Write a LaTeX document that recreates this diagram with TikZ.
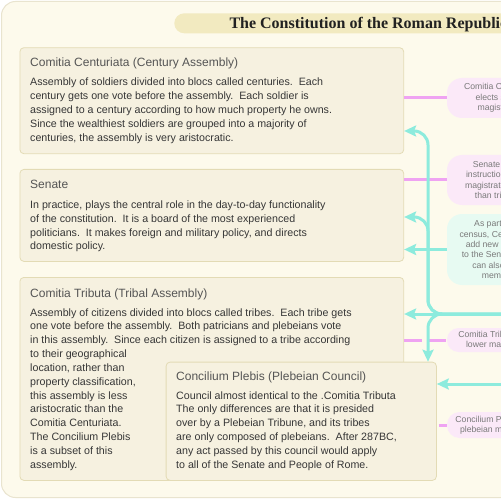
\documentclass[tikz,border=0pt]{standalone}
\usepackage{fontspec}
\setmainfont{Liberation Serif}
\newfontfamily\lsans{Liberation Sans}
\usetikzlibrary{arrows.meta}
\pgfdeclarelayer{back}
\pgfdeclarelayer{wires}
\pgfsetlayers{back,wires,main}
\definecolor{panelfill}{HTML}{FDFAEC}
\definecolor{panelline}{HTML}{E9E4CF}
\definecolor{boxfill}{HTML}{F6F1E0}
\definecolor{boxline}{HTML}{E3DBB5}
\definecolor{pillfill}{HTML}{F2EAC0}
\definecolor{pinkcol}{HTML}{EFA3F2}
\definecolor{pinkfill}{HTML}{FBE6FB}
\definecolor{cyancol}{HTML}{8DEBDD}
\definecolor{cyanfill}{HTML}{E3FAF4}
\definecolor{ttlcol}{HTML}{555555}
\definecolor{bodycol}{HTML}{363636}
\definecolor{bubcol}{HTML}{7A7A7A}
\begin{document}
\begin{tikzpicture}[x=1bp,y=-1bp,
  boxstyle/.style={draw=boxline, fill=boxfill, line width=0.8bp, rounded corners=4bp, anchor=north west, inner sep=0pt},
  ttl/.style={font=\lsans\fontsize{12bp}{14bp}\selectfont, text=ttlcol, anchor=base west, inner sep=0pt},
  bodytxt/.style={font=\lsans\fontsize{10.67bp}{13.85bp}\selectfont, text=bodycol, anchor=base west, inner sep=0pt},
  bubble/.style={fill opacity=0.82, text opacity=1, minimum width=106bp, inner sep=0pt, align=center,
     font=\lsans\fontsize{8.67bp}{10.3bp}\selectfont, text=bubcol},
  pbub/.style={bubble, fill=pinkfill},
  cbub/.style={bubble, fill=cyanfill},
  cy/.style={draw=cyancol, line width=3bp},
  cyarrow/.style={cy, -{Stealth[length=12bp,width=11bp,inset=2bp]}},
  pk/.style={draw=pinkcol, line width=3bp},
  pkdash/.style={pk, dash pattern=on 18bp off 6bp}
]
\useasboundingbox (0,0) rectangle (500,500);
\begin{pgfonlayer}{back}
  \fill[white] (0,0) rectangle (500,500);
  \draw[draw=panelline, fill=panelfill, line width=1bp, rounded corners=14bp] (1.5,1.5) rectangle (560,497.5);
  \fill[pillfill, rounded corners=10bp] (174.3,13.3) rectangle (600,33.3);
  \node[boxstyle, minimum width=383.8bp, minimum height=106bp] (box1) at (19.5,47.3) {};
  \node[boxstyle, minimum width=383.8bp, minimum height=92bp] (box2) at (19.5,169) {};
  \node[boxstyle, minimum width=383.8bp, minimum height=203bp] (box3) at (19.5,277) {};
  \node[boxstyle, minimum width=270.3bp, minimum height=118.3bp] (box4) at (165.7,361.7) {};
\end{pgfonlayer}

% title
\node[anchor=base west, inner sep=0pt, font=\bfseries\fontsize{16bp}{18bp}\selectfont, text=black!87] (title) at (229.3,28.3) {The Constitution of the Roman Republic};

% box titles
\node[ttl] (t1) at (30,67) {Comitia Centuriata (Century Assembly)};
\node[ttl] (t2) at (30,189) {Senate};
\node[ttl] (t3) at (30,297) {Comitia Tributa (Tribal Assembly)};
\node[ttl] (t4) at (176,380.7) {Concilium Plebis (Plebeian Council)};

% box bodies
\foreach \l [count=\i from 0] in {
  {Assembly of soldiers divided into blocs called centuries.\ \ Each},
  {century gets one vote before the assembly.\ \ Each soldier is},
  {assigned to a century according to how much property he owns.},
  {Since the wealthiest soldiers are grouped into a majority of},
  {centuries, the assembly is very aristocratic.}}
  \node[bodytxt] (ba\i) at (30,{86+\i*13.85}) {\l};

\foreach \l [count=\i from 0] in {
  {In practice, plays the central role in the day-to-day functionality},
  {of the constitution.\ \ It is a board of the most experienced},
  {politicians.\ \ It makes foreign and military policy, and directs},
  {domestic policy.}}
  \node[bodytxt] (bb\i) at (30,{208.3+\i*13.85}) {\l};

\foreach \l [count=\i from 0] in {
  {Assembly of citizens divided into blocs called tribes.\ \ Each tribe gets},
  {one vote before the assembly.\ \ Both patricians and plebeians vote},
  {in this assembly.\ \ Since each citizen is assigned to a tribe according},
  {to their geographical},
  {location, rather than},
  {property classification,},
  {this assembly is less},
  {aristocratic than the},
  {Comitia Centuriata.},
  {The Concilium Plebis},
  {is a subset of this},
  {assembly.}}
  \node[bodytxt] (bc\i) at (30,{316+\i*13.85}) {\l};

\foreach \l [count=\i from 0] in {
  {Council almost identical to the .Comitia Tributa},
  {The only differences are that it is presided},
  {over by a Plebeian Tribune, and its tribes},
  {are only composed of plebeians.\ \ After 287BC,},
  {any act passed by this council would apply},
  {to all of the Senate and People of Rome.}}
  \node[bodytxt] (bd\i) at (176,{399+\i*13.85}) {\l};

% bubbles
\node[pbub, minimum height=40bp, rounded corners=15bp] (bub1) at (500,98) {Comitia Centuriata\\elects senior\\magistrates};
\node[pbub, minimum height=50bp, rounded corners=15bp] (bub2) at (500,180) {Senate issues\\instructions to the\\magistrates rather\\than tribunes};
\node[cbub, minimum height=71bp, rounded corners=15bp] (bub3) at (500,249.5) {As part of the\\census, Censors can\\add new senators\\to the Senate. They\\can also expel\\members};
\node[pbub, minimum height=24bp, rounded corners=11.5bp] (bub4) at (500,340) {Comitia Tributa elects\\lower magistrates};
\node[pbub, minimum height=26bp, rounded corners=12.5bp] (bub5) at (500,425) {Concilium Plebis elects\\plebeian magistrates};

% connectors
\coordinate (src) at (540,314);
\coordinate (src2) at (540,384);
\coordinate (jn) at (428,314);
\coordinate (y131) at (0,131);
\coordinate (y217) at (0,217);
\begin{pgfonlayer}{wires}
  \draw[pk] (bub1) -- (bub1 -| box1.east);
  \draw[pk] (bub2) -- (bub2 -| box2.east);
  \draw[pkdash] (bub4 -| box3.east) -- (bub4);
  \draw[pkdash] ([xshift=2bp]bub5 -| box4.east) -- (bub5);
  \draw[cyarrow] (bub3) -- (bub3 -| box2.east);
  \draw[cyarrow, rounded corners=14bp] (src) -- (jn) -- (jn |- y131) -- (box1.east |- y131);
  \draw[cyarrow, rounded corners=14bp] (src) -- (jn) -- (jn |- y217) -- (box2.east |- y217);
  \draw[cyarrow, rounded corners=14bp] (src) -- (jn) -- (box4.north -| jn);
  \draw[cyarrow] (src) -- (src -| box3.east);
  \draw[cyarrow] (src2) -- (src2 -| box4.east);
\end{pgfonlayer}
\end{tikzpicture}
\end{document}
